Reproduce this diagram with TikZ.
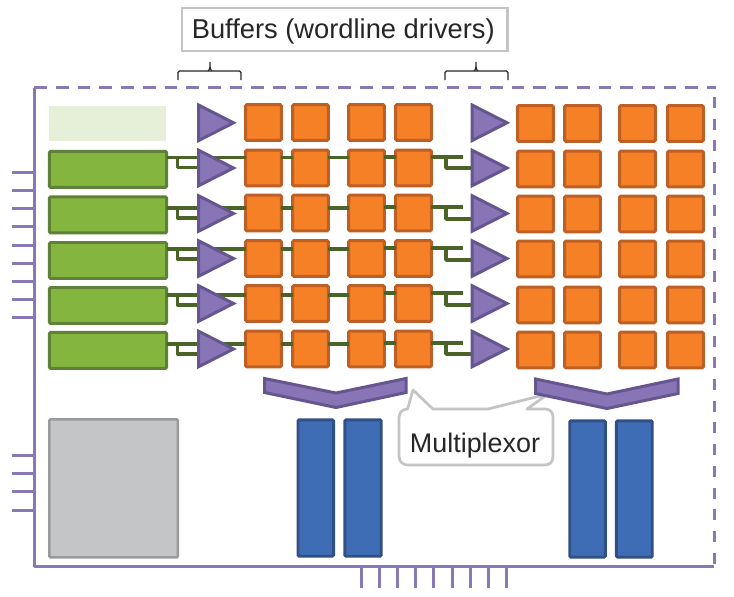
\documentclass[tikz,border=0pt]{standalone}
\usepackage{fontspec}
\setmainfont{Liberation Sans}
\definecolor{frameC}{HTML}{8878B4}
\definecolor{orF}{HTML}{F58025}
\definecolor{orD}{HTML}{BE5F26}
\definecolor{grF}{HTML}{84B53F}
\definecolor{grD}{HTML}{5F8038}
\definecolor{paleG}{HTML}{E6EFD7}
\definecolor{puF}{HTML}{8875B6}
\definecolor{puD}{HTML}{66568F}
\definecolor{blF}{HTML}{3F6DB5}
\definecolor{blD}{HTML}{2F4F85}
\definecolor{wireC}{HTML}{4A6428}
\definecolor{grayF}{HTML}{C3C5C7}
\definecolor{grayD}{HTML}{9A9A9A}
\definecolor{boxD}{HTML}{C4C4C4}
\tikzset{
  box/.style={rectangle,inner sep=0pt,outer sep=0pt,rounded corners=1.2pt,line width=2.9pt},
  sq/.style={box,draw=orD,fill=orF,minimum width=35.8pt,minimum height=35.8pt},
  greenbox/.style={box,draw=grD,fill=grF,minimum width=117.2pt,minimum height=36pt},
  bluebox/.style={box,draw=blD,fill=blF,minimum width=35.6pt,minimum height=136.4pt},
  tri/.style={draw=puD,fill=puF,line width=3pt,line join=miter},
  mux/.style={draw=puD,fill=puF,line width=3pt,line join=miter},
  wire/.style={draw=wireC,line width=3.4pt},
  frameline/.style={draw=frameC,line width=3.2pt,line join=round},
  framedash/.style={draw=frameC,line width=3.2pt},
  tick/.style={draw=frameC,line width=3pt},
  bracket/.style={draw=black!85,line width=1.1pt,rounded corners=1.5pt},
  txt/.style={font=\fontsize{27.3}{31}\selectfont,text=black!85,inner sep=0pt},
}
\begin{document}
\begin{tikzpicture}[x=1pt,y=-1pt]
\useasboundingbox (0,0) rectangle (734,597);
% frame
\coordinate (ftl) at (34.3,87.6);
\coordinate (fbl) at (34.3,566.3);
\coordinate (fbr) at (714.3,566.3);
\coordinate (ftr) at (716,87.6);
\coordinate (ftrv) at (714.3,87.6);
\draw[framedash,dash pattern=on 12.7pt off 9pt] (ftl) -- (ftr);
\draw[framedash,dash pattern=on 11pt off 10.7pt,dash phase=12.4pt] (ftrv) -- (fbr);
\draw[frameline] (ftl) -- (fbl) -- (fbr);
\foreach \y in {172,190,208,226,245,263,281,299,317,455,473.5,491.7,510}
  \draw[tick] (12,\y) -- (34,\y);
\foreach \x in {361,379,397,415,433,452,470,488,506}
  \draw[tick] (\x,567) -- (\x,588);
% top row pale block
\node[rectangle,fill=paleG,minimum width=117pt,minimum height=35pt,inner sep=0pt] (pale) at (107.5,123.5) {};
% rows
\foreach \r/\sl/\sr/\g/\w/\lo/\rw/\rlo in {2/168/169/169.3/157.5/167.5/157/168, 3/213/214/214.8/208/218/207/219, 4/258.5/259/260.5/249/259/248/260, 5/303.5/305/305.5/295/305/293/305, 6/349/350/350.3/344/354/343/354}{
  \node[greenbox] (g\r) at (108,\g) {};
  \foreach \c/\x in {1/263.5,2/310.5,3/366.5,4/413.5}
    \node[sq] (a\r\c) at (\x,\sl) {};
  \foreach \c/\x in {1/535.5,2/582.5,3/637.5,4/685.5}
    \node[sq] (b\r\c) at (\x,\sr) {};
  \coordinate (w\r) at (g\r.east |- 0,\w);
  \coordinate (x\r) at (177.5,\w);
  \coordinate (y\r) at (177.5,\lo);
  \coordinate (ta\r) at (199,\lo);
  \coordinate (u\r) at (a\r4.east |- 0,\rw);
  \coordinate (v\r) at (463,\rw);
  \coordinate (p\r) at (446,\rw);
  \coordinate (q\r) at (446,\rlo);
  \coordinate (tb\r) at (472,\rlo);
  \draw[wire] (w\r) -- (a\r1.west |- w\r);
  \draw[wire] (a\r1.east |- w\r) -- (a\r2.west |- w\r);
  \draw[wire] (a\r2.east |- w\r) -- (a\r3.west |- w\r);
  \draw[wire] (a\r3.east |- u\r) -- (a\r4.west |- u\r);
  \draw[wire,line join=round] (x\r) -- (y\r) -- (ta\r);
  \draw[wire] (u\r) -- (v\r);
  \draw[wire,line join=round] (p\r) -- (q\r) -- (tb\r);
}
% top row squares
\foreach \c/\x in {1/263.5,2/310.5,3/366.5,4/413.5}
  \node[sq] (a1\c) at (\x,122.5) {};
\foreach \c/\x in {1/535.5,2/582.5,3/637.5,4/685.5}
  \node[sq] (b1\c) at (\x,123.5) {};
% triangles
\foreach \y in {122.8,168,213.5,258.5,303.5,349}{
  \draw[tri] (198.5,\y-17.8) -- (233.5,\y) -- (198.5,\y+17.8) -- cycle;
  \draw[tri] (472,\y-17.8) -- (507,\y) -- (472,\y+17.8) -- cycle;
}
% gray block
\node[box,draw=grayD,fill=grayF,line width=2.6pt,minimum width=128.5pt,minimum height=138pt] (mem) at (113.6,488.3) {};
% blue columns
\node[bluebox] (d1) at (315.8,488) {};
\node[bluebox,minimum width=36.4pt] (d2) at (363,488) {};
\node[bluebox] (d3) at (587.5,489) {};
\node[bluebox,minimum width=35.8pt] (d4) at (634.3,489) {};
% callout
\draw[draw=boxD,fill=white,line width=2.7pt,line join=round]
  (399,456) -- (399,418) .. controls (399,412) and (403,409) .. (407.5,409) -- (413,390) -- (433,409) -- (488,409) -- (548,394) -- (527,409) -- (545,409) .. controls (550,409) and (553,412) .. (553,417) -- (553,456) .. controls (553,462) and (550,465) .. (544,465) -- (408,465) .. controls (403,465) and (399,462) .. (399,456) -- cycle;
\node[txt,font=\fontsize{26.9}{31}\selectfont] (mx) at (475,446) {Multiplexor};
% multiplexers
\draw[mux] (264.5,378.5) -- (336,393) -- (406,378.5) -- (406,392.5) -- (336,407.5) -- (264.5,392.5) -- cycle;
\draw[mux] (535.5,379) -- (607,394) -- (678,379) -- (678,393.5) -- (607,408.5) -- (535.5,393.5) -- cycle;
% title
\node[rectangle,draw=boxD,fill=white,line width=2.9pt,minimum width=325.7pt,minimum height=43pt,inner sep=0pt,txt] (title) at (344.8,29.5) {\rule{0pt}{24.5pt}Buffers (wordline drivers)\hspace*{3pt}};
% brackets
\draw[bracket] (178,80) -- (178,71) -- (241,71) -- (241,80);
\draw[draw=black!85,line width=1.1pt] (208,71) .. controls (210,70) and (210,66) .. (210,62) .. controls (210,66) and (210,70) .. (212,71);
\draw[bracket] (445,80) -- (445,71) -- (508,71) -- (508,80);
\draw[draw=black!85,line width=1.1pt] (474,71) .. controls (476,70) and (476,66) .. (476,62) .. controls (476,66) and (476,70) .. (478,71);
\end{tikzpicture}
\end{document}
